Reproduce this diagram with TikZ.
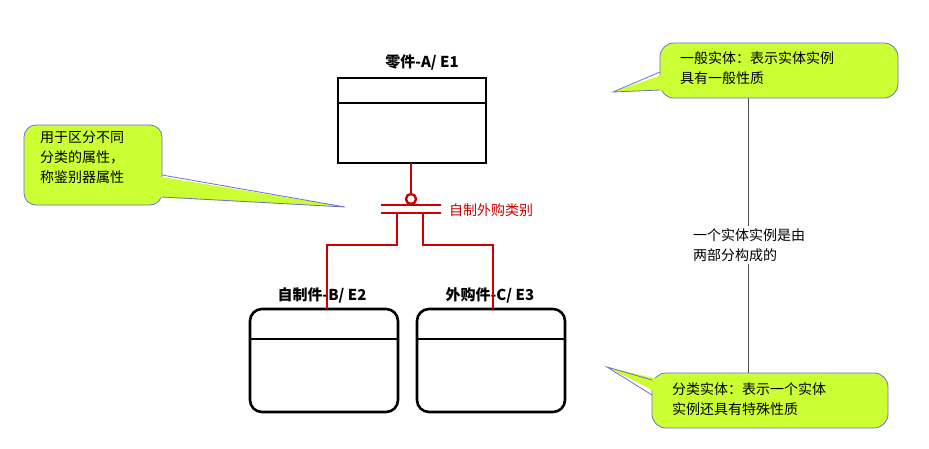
\documentclass[tikz,border=0pt]{standalone}
\usepackage{fontspec}
\setmainfont{Noto Sans CJK SC}
\begin{document}
\begin{tikzpicture}[x=1pt,y=-1pt,
  ent/.style={line width=2.6pt,draw=black},
  rel/.style={line width=2.6pt,draw=red!80!black},
  call/.style={fill=callfill,draw=callline,line width=0.8pt},
  ctext/.style={font=\fontsize{14}{20}\selectfont,align=left,anchor=north west,inner sep=0pt},
  ttl/.style={font=\fontsize{15}{18}\selectfont\bfseries,inner sep=0pt}]
\definecolor{callfill}{HTML}{CCFF33}
\definecolor{callline}{HTML}{6F6FD0}
\useasboundingbox (0,0) rectangle (929,448);
% entity A
\node[ttl] (ta) at (422,62) {零件-A/ E1};
\draw[ent] (338,78) rectangle (486,163);
\draw[ent] (338,103) -- (486,103);
\coordinate (abot) at (411,163);
% entities B and C
\node[ttl] (tb) at (322,295) {自制件-B/ E2};
\node[ttl] (tc) at (490,295) {外购件-C/ E3};
\draw[ent,rounded corners=12] (250,309) rectangle (398,412);
\draw[ent] (250,339) -- (398,339);
\draw[ent,rounded corners=12] (417,309) rectangle (565,412);
\draw[ent] (417,339) -- (565,339);
% category symbol
\node[circle,draw=red!80!black,line width=2.4pt,minimum size=10pt,inner sep=0pt] (ci) at (411,199) {};
\draw[rel] (abot) -- (ci.north);
\draw[rel] (381,205) -- (441,205);
\draw[rel] (381,213) -- (441,213);
\coordinate (bl) at (327,309);
\coordinate (cr) at (493,309);
\draw[rel] (397,213) -- (397,245) -- (bl |- 0,245) -- (bl);
\draw[rel] (423,213) -- (423,245) -- (cr |- 0,245) -- (cr);
\node[anchor=west,text=red!80!black,font=\fontsize{14}{16}\selectfont,inner sep=0pt] (cat) at (449,210) {自制外购类别};
% left callout
\draw[call,rounded corners=12] (24,125) rectangle (162,205);
\fill[callfill] (150,175) -- (345,207) -- (150,197) -- cycle;
\draw[callline,line width=0.8pt] (162,175) -- (345,207) -- (162,197);
\node[ctext] (l1) at (40,131) {用于区分不同\\分类的属性，\\称鉴别器属性};
% vertical line
\draw[gray!60!black,line width=1pt] (748,98) -- (748,373);
\node[fill=white,font=\fontsize{14}{20}\selectfont,align=left,inner sep=2pt] (mid) at (749,245) {一个实体实例是由\\两部分构成的};
% top right callout
\draw[call,rounded corners=14] (660,43) rectangle (898,98);
\fill[callfill] (670,72) -- (613,92) -- (670,90) -- cycle;
\draw[callline,line width=0.8pt] (660,72) -- (613,92) -- (660,90);
\node[ctext] (r1) at (680,51) {一般实体：表示实体实例\\具有一般性质};
% bottom right callout
\draw[call,rounded corners=14] (652,373) rectangle (888,428);
\fill[callfill] (662,380) -- (607,367) -- (662,395) -- cycle;
\draw[callline,line width=0.8pt] (652,380) -- (607,367) -- (652,395);
\node[ctext] (r2) at (672,382) {分类实体：表示一个实体\\实例还具有特殊性质};
\end{tikzpicture}
\end{document}
